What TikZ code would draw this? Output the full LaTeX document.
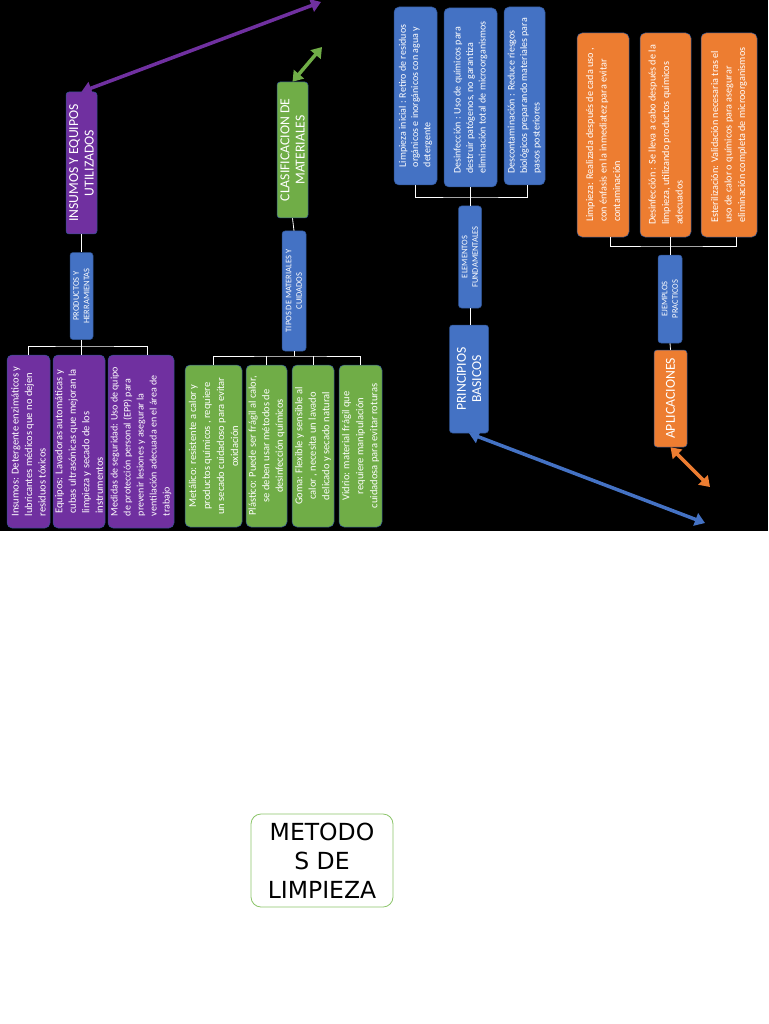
\documentclass[tikz,border=0pt]{standalone}
\usepackage{fontspec}
\setmainfont{Carlito}
\newfontfamily\titulofont{DejaVu Sans}
\usepackage{tikz}
\usetikzlibrary{arrows.meta}
\definecolor{violeta}{HTML}{7030A0}
\definecolor{verde}{HTML}{70AD47}
\definecolor{azul}{HTML}{4472C4}
\definecolor{naranja}{HTML}{ED7D31}
\definecolor{borde}{HTML}{2F528F}
\definecolor{verdeclaro}{HTML}{8CC56A}

\begin{document}
\begin{tikzpicture}[x=1pt,y=-1pt,
  tema/.style={rotate=90,draw=borde,line width=0.5pt,rounded corners=3pt,text=white,align=center,inner sep=1pt,font=\fontsize{13.7}{15.3}\selectfont},
  etiqueta/.style={rotate=90,draw=borde,fill=azul,line width=0.5pt,rounded corners=3pt,text=white,align=center,inner sep=1pt,font=\fontsize{8.5}{10.5}\selectfont},
  hoja/.style={rotate=90,draw=borde,line width=0.5pt,rounded corners=5pt,text=white,align=left,inner sep=0pt,font=\fontsize{10.5}{13.5}\selectfont},
  enlace/.style={draw=white,line width=0.8pt},
  flecha/.style={{Triangle[length=10pt,width=13pt]}-{Triangle[length=10pt,width=13pt]},line width=3.5pt}
]
\useasboundingbox (0,0) rectangle (768,1024);
\fill[white] (0,0) rectangle (768,1024);
\fill[black] (0,0) rectangle (768,531);

\node[tema,fill=violeta,minimum width=142pt,minimum height=31pt] (insumos) at (81.5,163) {INSUMOS Y EQUIPOS\\UTILIZADOS};
\node[etiqueta,minimum width=87pt,minimum height=23pt] (productos) at (81.5,296) {PRODUCTOS Y\\HERRAMIENTAS};
\node[hoja,fill=violeta,minimum width=173pt,minimum height=43pt] (insumo) at (28.5,441.5) {Insumos: Detergente enzimáticos y\\lubricantes médicos que no dejen\\residuos tóxicos};
\node[hoja,fill=violeta,minimum width=173pt,minimum height=52pt] (equipos) at (79,441.5) {Equipos: Lavadoras automáticas y\\cubas ultrasónicas que mejoran la\\limpieza y secado de los\\instrumentos};
\node[hoja,fill=violeta,minimum width=173pt,minimum height=66pt,font=\fontsize{10}{13}\selectfont] (medidas) at (141,441.5) {Medidas de seguridad: Uso de quipo\\de protección personal (EPP) para\\prevenir lesiones y asegurar la\\ventilación adecuada en el área de\\trabajo};

\node[tema,fill=verde,minimum width=136pt,minimum height=31pt] (clasif) at (292.5,150) {CLASIFICACION DE\\MATERIALES};
\node[etiqueta,minimum width=120pt,minimum height=24pt] (tipos) at (294,291) {TIPOS DE MATERIALES Y\\CUIDADOS};
\node[hoja,fill=verde,align=center,minimum width=162pt,minimum height=57pt,font=\fontsize{10.5}{14}\selectfont] (metalico) at (213.5,446) {Metálico: resistente a calor y\\productos químicos , requiere\\un secado cuidadoso para evitar\\oxidación};
\node[hoja,fill=verde,align=center,minimum width=162pt,minimum height=41pt,font=\fontsize{10.5}{13.5}\selectfont] (plastico) at (266.5,446) {Plástico: Puede ser frágil al calor,\\se deben usar métodos de\\desinfección químicos};
\node[hoja,fill=verde,align=center,minimum width=162pt,minimum height=42pt,font=\fontsize{10.5}{13.5}\selectfont] (goma) at (313,446) {Goma: Flexible y sensible al\\calor , necesita un lavado\\delicado y secado natural};
\node[hoja,fill=verde,align=center,minimum width=162pt,minimum height=43pt,font=\fontsize{10.5}{14}\selectfont] (vidrio) at (360.5,446) {Vidrio: material frágil que\\requiere manipulación\\cuidadosa para evitar roturas};

\node[hoja,fill=azul,minimum width=178pt,minimum height=43pt,font=\fontsize{10}{12.2}\selectfont] (limpieza) at (415.5,96) {Limpieza inicial : Retiro de residuos\\orgánicos e inorgánicos con agua y\\detergente};
\node[hoja,fill=azul,minimum width=179pt,minimum height=53pt,font=\fontsize{10}{12.5}\selectfont] (desinf) at (470.5,97.5) {Desinfección : Uso de químicos para\\destruir patógenos, no garantiza\\eliminación total de microorganismos};
\node[hoja,fill=azul,minimum width=178pt,minimum height=41pt,font=\fontsize{10}{12.5}\selectfont] (descont) at (524.5,96) {Descontaminación : Reduce riesgos\\biológicos preparando materiales para\\pasos posteriores};
\node[etiqueta,minimum width=102pt,minimum height=23pt] (elementos) at (470,257) {ELEMENTOS\\FUNDAMENTALES};
\node[tema,fill=azul,minimum width=108pt,minimum height=39pt] (principios) at (469,379) {PRINCIPIOS\\BASICOS};

\node[hoja,fill=naranja,minimum width=204pt,minimum height=52pt,font=\fontsize{10.2}{13.5}\selectfont] (lavado) at (603,135) {Limpieza: Realizada después de cada uso ,\\con énfasis en la inmediatez para evitar\\contaminación};
\node[hoja,fill=naranja,minimum width=204pt,minimum height=51pt,font=\fontsize{10.2}{13.5}\selectfont] (desinfeccion) at (665.5,135) {Desinfección : Se lleva a cabo después de la\\limpieza, utilizando productos químicos\\adecuados};
\node[hoja,fill=naranja,minimum width=204pt,minimum height=56pt,font=\fontsize{10.2}{13.5}\selectfont] (esteril) at (729,135) {Esterilización: Validación necesaria tras el\\uso de calor o químicos para asegurar\\eliminación completa de microorganismos};
\node[etiqueta,minimum width=88pt,minimum height=24pt] (ejemplos) at (670,299) {EJEMPLOS\\PRACTICOS};
\node[tema,fill=naranja,minimum width=97pt,minimum height=33pt] (aplic) at (670.5,398.5) {APLICACIONES};

\node[draw=verdeclaro,line width=0.8pt,rounded corners=10pt,minimum width=142pt,minimum height=93pt,align=center,font=\titulofont\fontsize{23.5}{29}\selectfont] (metodos) at (322,860.5) {METODO\\S DE\\LIMPIEZA};

\coordinate (barraP) at (81.5,346);
\coordinate (barraV) at (294,356);
\coordinate (barraA) at (470,197);
\coordinate (barraN) at (670,246);
\coordinate (puntaV) at (321,2);
\coordinate (puntaG) at (322,47);
\coordinate (puntaA) at (705,523);
\coordinate (puntaN) at (710,487);

\draw[enlace] (insumos.west) -- (productos.east);
\draw[enlace] (productos.west) -- (productos.west |- equipos.east);
\draw[enlace] (insumo.east) |- (barraP) -| ([xshift=6pt]medidas.east);
\draw[enlace] (clasif.west) -- (tipos.east);
\draw[enlace] (tipos.west) -- (barraV);
\draw[enlace] (metalico.east) |- (barraV) -| (vidrio.east);
\draw[enlace] (plastico.east) -- (plastico.east |- barraV);
\draw[enlace] (goma.east) -- (goma.east |- barraV);
\draw[enlace] (limpieza.west) |- (barraA) -| ([xshift=3pt]descont.west);
\draw[enlace] (desinf.west) -- (desinf.west |- elementos.east);
\draw[enlace] (elementos.west) -- (elementos.west |- principios.east);
\draw[enlace] ([xshift=7pt]lavado.west) |- (barraN) -| ([xshift=7pt]esteril.west);
\draw[enlace] (ejemplos.east) -- (ejemplos.east |- desinfeccion.west);
\draw[enlace] (ejemplos.west) -- (aplic.east);

\draw[flecha,violeta] (insumos.east) -- (puntaV);
\draw[flecha,verde] (clasif.east) -- (puntaG);
\draw[flecha,azul] (principios.west) -- (puntaA);
\draw[flecha,naranja] (aplic.west) -- (puntaN);
\end{tikzpicture}
\end{document}
